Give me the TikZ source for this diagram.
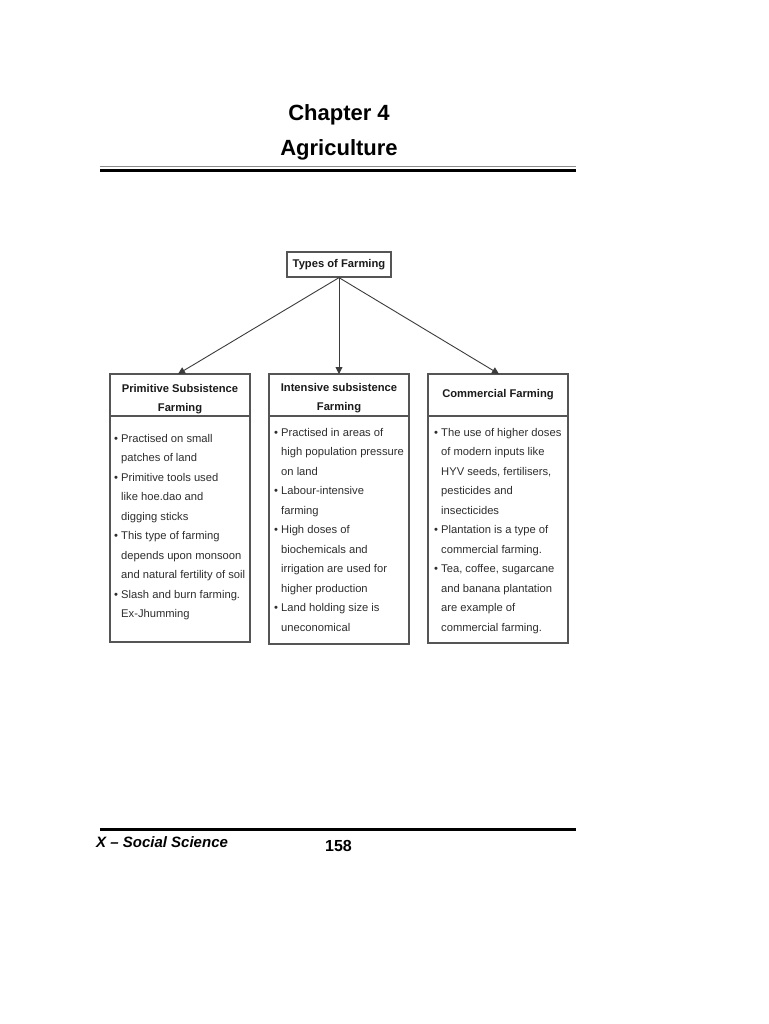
\documentclass[tikz,border=0pt]{standalone}
\usepackage{fontspec}
\setmainfont{Liberation Sans}
\usetikzlibrary{arrows.meta}
\definecolor{ink}{HTML}{1A1A1A}
\definecolor{boxline}{HTML}{555555}
\definecolor{bodytext}{HTML}{2E2E2E}
\tikzset{
  card/.style={draw=boxline, line width=1.3pt},
  headtext/.style={font=\fontsize{11.2}{19.5}\selectfont\bfseries, text=ink, inner sep=0pt, align=center},
  bodyline/.style={font=\fontsize{11.2}{13}\selectfont, text=bodytext, inner sep=0pt, anchor=base west},
  link/.style={draw=ink!85, line width=0.9pt, -{Triangle[length=7pt,width=7pt]}},
}
\newcommand{\bul}{\llap{\textbullet\ }}
\begin{document}
\begin{tikzpicture}[x=1pt,y=-1pt]
\useasboundingbox (0,0) rectangle (768,1024);
\fill[white] (0,0) rectangle (768,1024);

% header
\node[font=\fontsize{22}{26}\selectfont\bfseries, inner sep=0pt] (chap) at (339,115) {Chapter 4};
\node[font=\fontsize{22}{26}\selectfont\bfseries, inner sep=0pt] (agri) at (339,150) {Agriculture};
\draw[draw=black!45, line width=0.8pt] (100,166) -- (576,166);
\draw[draw=black, line width=3pt] (100,170.5) -- (576,170.5);

% footer
\draw[draw=black, line width=3pt] (100,829.5) -- (576,829.5);
\node[font=\fontsize{15}{16}\selectfont\bfseries\itshape, anchor=base west, inner sep=0pt] (subj) at (96,847) {X -- Social Science};
\node[font=\fontsize{16}{17}\selectfont\bfseries, anchor=base west, inner sep=0pt] (page) at (325,851) {158};

% root
\node[card, minimum width=104pt, minimum height=25pt, inner sep=0pt, font=\fontsize{11.2}{13}\selectfont\bfseries, text=ink] (root) at (339,264.5) {Types of Farming};

% boxes
\draw[card] (110,374) rectangle (250,642);
\draw[card] (110,416) -- (250,416);
\draw[card] (269,374) rectangle (409,644);
\draw[card] (269,416) -- (409,416);
\draw[card] (428,374) rectangle (568,643);
\draw[card] (428,416) -- (568,416);

\coordinate (t1) at (178,374);
\coordinate (t2) at (339,374);
\coordinate (t3) at (499,374);
\draw[link] (root.south) -- (t1);
\draw[link] (root.south) -- (t2);
\draw[link] (root.south) -- (t3);

\node[headtext] (h1) at (180,399) {Primitive Subsistence\\Farming};
\node[headtext] (h2) at (339,398) {Intensive subsistence\\Farming};
\node[headtext] (h3) at (498,394.5) {Commercial Farming};

% left body
\foreach \t [count=\i from 0] in {
  {\bul Practised on small},
  {patches of land},
  {\bul Primitive tools used},
  {like hoe.dao and},
  {digging sticks},
  {\bul This type of farming},
  {depends upon monsoon},
  {and natural fertility of soil},
  {\bul Slash and burn farming.},
  {Ex-Jhumming}}
  \node[bodyline] (a\i) at (121,442+19.55*\i) {\t};

% middle body
\foreach \t [count=\i from 0] in {
  {\bul Practised in areas of},
  {high population pressure},
  {on land},
  {\bul Labour-intensive},
  {farming},
  {\bul High doses of},
  {biochemicals and},
  {irrigation are used for},
  {higher production},
  {\bul Land holding size is},
  {uneconomical}}
  \node[bodyline] (b\i) at (281,436+19.55*\i) {\t};

% right body
\foreach \t [count=\i from 0] in {
  {\bul The use of higher doses},
  {of modern inputs like},
  {HYV seeds, fertilisers,},
  {pesticides and},
  {insecticides},
  {\bul Plantation is a type of},
  {commercial farming.},
  {\bul Tea, coffee, sugarcane},
  {and banana plantation},
  {are example of},
  {commercial farming.}}
  \node[bodyline] (c\i) at (441,436+19.55*\i) {\t};
\end{tikzpicture}
\end{document}
